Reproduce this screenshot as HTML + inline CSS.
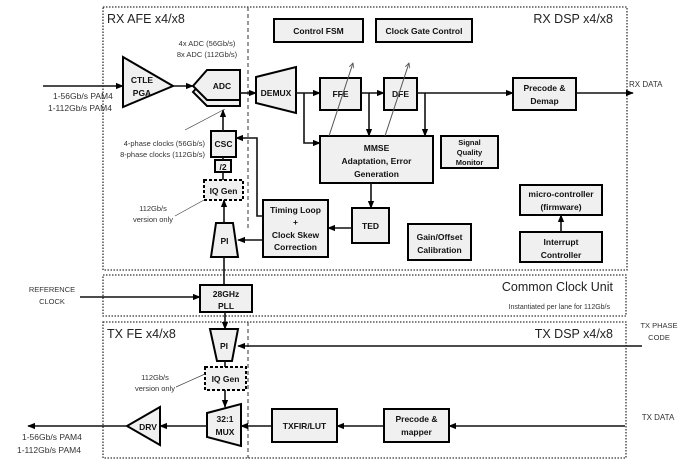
<!DOCTYPE html>
<html><head><meta charset="utf-8"><style>
html,body{margin:0;padding:0;background:#fff;}
svg{display:block;font-family:"Liberation Sans",sans-serif;}
.b{fill:#f0f0f0;stroke:#000;stroke-width:2;}
.t{font-size:8.5px;font-weight:bold;text-anchor:middle;fill:#111;}
.s{font-size:8px;fill:#333;}
.L{font-size:12.5px;fill:#222;}
.ln{stroke:#111;stroke-width:1.6;fill:none;}
.dot{fill:none;stroke:#333;stroke-width:1.3;stroke-dasharray:1.5 1.5;}
.dash{stroke:#333;stroke-width:1;stroke-dasharray:4 3;fill:none;}
</style></head><body>
<svg width="687" height="466" viewBox="0 0 687 466">
<defs><marker id="a" viewBox="0 0 10 10" refX="9" refY="5" markerWidth="5" markerHeight="5" orient="auto"><path d="M0,1 L10,5 L0,9z" fill="#000"/></marker>
<marker id="o" viewBox="0 0 10 10" refX="9" refY="5" markerWidth="6" markerHeight="6" orient="auto"><path d="M1,1 L9,5 L1,9" fill="none" stroke="#555" stroke-width="1.3"/></marker></defs>

<rect class="dot" x="103" y="7" width="524" height="263"/>
<rect class="dot" x="103" y="275" width="523" height="41"/>
<rect class="dot" x="103" y="322" width="523" height="136"/>
<line class="dash" x1="248" y1="7" x2="248" y2="230"/>
<line class="dash" x1="248" y1="322" x2="248" y2="458"/>
<text class="L" x="107" y="23">RX AFE x4/x8</text>
<text class="L" x="613" y="23" text-anchor="end">RX DSP x4/x8</text>
<text class="L" x="613" y="291" text-anchor="end">Common Clock Unit</text>
<text class="s" x="610" y="309" text-anchor="end" style="font-size:7px">Instantiated per lane for 112Gb/s</text>
<text class="L" x="107" y="338">TX FE x4/x8</text>
<text class="L" x="613" y="338" text-anchor="end">TX DSP x4/x8</text>

<line class="ln" x1="43" y1="86" x2="123" y2="86" marker-end="url(#a)"/>
<text class="s" x="53" y="99" style="font-size:8.5px">1-56Gb/s PAM4</text>
<text class="s" x="48" y="111" style="font-size:8.5px">1-112Gb/s PAM4</text>
<polygon class="b" points="123,57 173,86 123,107"/>
<text class="t" x="142" y="83">CTLE</text><text class="t" x="142" y="96">PGA</text>
<line class="ln" x1="173" y1="86" x2="193" y2="86" marker-end="url(#a)"/>
<polygon class="b" points="193,92 207,76 240,76 240,106 207,106"/>
<polygon class="b" points="193,86 207,70 240,70 240,100 207,100"/>
<text class="t" x="222" y="89">ADC</text>
<text class="s" x="207" y="46" text-anchor="middle" style="font-size:7.5px">4x ADC (56Gb/s)</text>
<text class="s" x="207" y="57" text-anchor="middle" style="font-size:7.5px">8x ADC (112Gb/s)</text>
<rect class="b" x="211" y="131" width="25" height="26"/><text class="t" x="223.5" y="147">CSC</text>
<line class="ln" x1="223" y1="131" x2="223" y2="110" marker-end="url(#a)"/>
<rect class="b" x="215" y="160" width="16" height="12"/><text class="t" x="223" y="170">/2</text>
<line class="ln" x1="223" y1="157" x2="223" y2="160"/>
<line class="ln" x1="223" y1="172" x2="223" y2="180"/>
<rect class="b" x="204" y="180" width="39" height="20" style="stroke-dasharray:3 2"/><text class="t" x="223.5" y="194">IQ Gen</text>
<text class="s" x="205" y="146" text-anchor="end" style="font-size:7.5px">4-phase clocks (56Gb/s)</text>
<text class="s" x="205" y="157" text-anchor="end" style="font-size:7.5px">8-phase clocks (112Gb/s)</text>
<line x1="185" y1="130" x2="225" y2="109" stroke="#444" stroke-width="0.7"/>
<text class="s" x="153" y="211" text-anchor="middle" style="font-size:7.5px">112Gb/s</text>
<text class="s" x="153" y="222" text-anchor="middle" style="font-size:7.5px">version only</text>
<line x1="175" y1="216" x2="204" y2="200" stroke="#444" stroke-width="0.7"/>
<polygon class="b" points="216,223 233,223 238,257 211,257"/><text class="t" x="224.5" y="244">PI</text>
<line class="ln" x1="224" y1="223" x2="224" y2="200" marker-end="url(#a)"/>
<rect class="b" x="263" y="200" width="65" height="57"/>
<text class="t" x="295.5" y="213">Timing Loop</text><text class="t" x="295.5" y="225">+</text>
<text class="t" x="295.5" y="238">Clock Skew</text><text class="t" x="295.5" y="250">Correction</text>
<polyline class="ln" points="263,216 257,216 257,138 236,138" marker-end="url(#a)"/>
<line class="ln" x1="263" y1="240" x2="238" y2="240" marker-end="url(#a)"/>

<rect class="b" x="274" y="19" width="89" height="23"/><text class="t" x="318.5" y="34">Control FSM</text>
<rect class="b" x="376" y="19" width="96" height="23"/><text class="t" x="424" y="34">Clock Gate Control</text>
<line class="ln" x1="240" y1="93" x2="256" y2="93" marker-end="url(#a)"/>
<polygon class="b" points="256,77 296,67 296,113 256,103"/><text class="t" x="276" y="96">DEMUX</text>
<line class="ln" x1="296" y1="93" x2="320" y2="93" marker-end="url(#a)"/>
<polyline class="ln" points="304,93 304,143 320,143" marker-end="url(#a)"/>
<rect class="b" x="320" y="78" width="41" height="32"/><text class="t" x="340.5" y="97">FFE</text>
<line class="ln" x1="361" y1="93" x2="384" y2="93" marker-end="url(#a)"/>
<line class="ln" x1="369" y1="93" x2="369" y2="136" marker-end="url(#a)"/>
<rect class="b" x="384" y="78" width="33" height="32"/><text class="t" x="400.5" y="97">DFE</text>
<line class="ln" x1="417" y1="93" x2="513" y2="93" marker-end="url(#a)"/>
<line class="ln" x1="425" y1="93" x2="425" y2="136" marker-end="url(#a)"/>
<rect class="b" x="513" y="78" width="63" height="32"/><text class="t" x="544.5" y="91">Precode &amp;</text><text class="t" x="544.5" y="104">Demap</text>
<line class="ln" x1="576" y1="93" x2="633" y2="93" marker-end="url(#a)"/>
<text class="s" x="629" y="87" style="font-size:8px">RX DATA</text>
<rect class="b" x="320" y="136" width="113" height="47"/>
<text class="t" x="376.5" y="151">MMSE</text><text class="t" x="376.5" y="164">Adaptation, Error</text><text class="t" x="376.5" y="177">Generation</text>
<line x1="329" y1="136" x2="353" y2="63" stroke="#555" stroke-width="1" marker-end="url(#o)"/>
<line x1="385" y1="136" x2="409" y2="63" stroke="#555" stroke-width="1" marker-end="url(#o)"/>
<rect class="b" x="441" y="136" width="57" height="32"/>
<text class="t" x="469.5" y="145" style="font-size:7.5px">Signal</text><text class="t" x="469.5" y="155" style="font-size:7.5px">Quality</text><text class="t" x="469.5" y="165" style="font-size:7.5px">Monitor</text>
<line class="ln" x1="371" y1="183" x2="371" y2="208" marker-end="url(#a)"/>
<rect class="b" x="352" y="208" width="37" height="35"/><text class="t" x="370.5" y="229">TED</text>
<line class="ln" x1="352" y1="228" x2="328" y2="228" marker-end="url(#a)"/>
<rect class="b" x="408" y="224" width="63" height="36"/><text class="t" x="439.5" y="240">Gain/Offset</text><text class="t" x="439.5" y="253">Calibration</text>
<rect class="b" x="520" y="185" width="82" height="30"/><text class="t" x="561" y="197">micro-controller</text><text class="t" x="561" y="210">(firmware)</text>
<rect class="b" x="520" y="232" width="82" height="30"/><text class="t" x="561" y="245">Interrupt</text><text class="t" x="561" y="258">Controller</text>
<line class="ln" x1="561" y1="232" x2="561" y2="215" marker-end="url(#a)"/>

<line class="ln" x1="224" y1="257" x2="224" y2="285"/>
<text class="s" x="52" y="292" text-anchor="middle" style="font-size:7.5px">REFERENCE</text>
<text class="s" x="52" y="304" text-anchor="middle" style="font-size:7.5px">CLOCK</text>
<line class="ln" x1="80" y1="297" x2="200" y2="297" marker-end="url(#a)"/>
<rect class="b" x="200" y="285" width="52" height="27"/><text class="t" x="226" y="297">28GHz</text><text class="t" x="226" y="309">PLL</text>
<line class="ln" x1="225" y1="312" x2="225" y2="329" marker-end="url(#a)"/>

<polygon class="b" points="210,329 238,329 232,361 217,361"/><text class="t" x="224" y="349">PI</text>
<line class="ln" x1="642" y1="346" x2="238" y2="346" marker-end="url(#a)"/>
<text class="s" x="659" y="328" text-anchor="middle" style="font-size:7.5px">TX PHASE</text>
<text class="s" x="659" y="340" text-anchor="middle" style="font-size:7.5px">CODE</text>
<line class="ln" x1="225" y1="361" x2="225" y2="367"/>
<rect class="b" x="205" y="367" width="41" height="23" style="stroke-dasharray:3 2"/><text class="t" x="225.5" y="382">IQ Gen</text>
<text class="s" x="155" y="380" text-anchor="middle" style="font-size:7.5px">112Gb/s</text>
<text class="s" x="155" y="391" text-anchor="middle" style="font-size:7.5px">version only</text>
<line x1="176" y1="387" x2="205" y2="374" stroke="#444" stroke-width="0.7"/>
<line class="ln" x1="225" y1="390" x2="225" y2="407" marker-end="url(#a)"/>
<polygon class="b" points="207,413 241,404 241,446 207,437"/><text class="t" x="225" y="422">32:1</text><text class="t" x="225" y="435">MUX</text>
<line class="ln" x1="272" y1="426" x2="241" y2="426" marker-end="url(#a)"/>
<rect class="b" x="272" y="409" width="65" height="33"/><text class="t" x="304.5" y="429">TXFIR/LUT</text>
<line class="ln" x1="384" y1="426" x2="337" y2="426" marker-end="url(#a)"/>
<rect class="b" x="384" y="409" width="65" height="33"/><text class="t" x="416.5" y="422">Precode &amp;</text><text class="t" x="416.5" y="435">mapper</text>
<line class="ln" x1="625" y1="426" x2="449" y2="426" marker-end="url(#a)"/>
<text class="s" x="658" y="420" text-anchor="middle" style="font-size:8px">TX DATA</text>
<line class="ln" x1="207" y1="426" x2="160" y2="426" marker-end="url(#a)"/>
<polygon class="b" points="160,407 160,445 127,426"/><text class="t" x="148" y="430">DRV</text>
<line class="ln" x1="127" y1="426" x2="28" y2="426" marker-end="url(#a)"/>
<text class="s" x="22" y="440" style="font-size:8.5px">1-56Gb/s PAM4</text>
<text class="s" x="17" y="453" style="font-size:8.5px">1-112Gb/s PAM4</text>
</svg>
</body></html>
